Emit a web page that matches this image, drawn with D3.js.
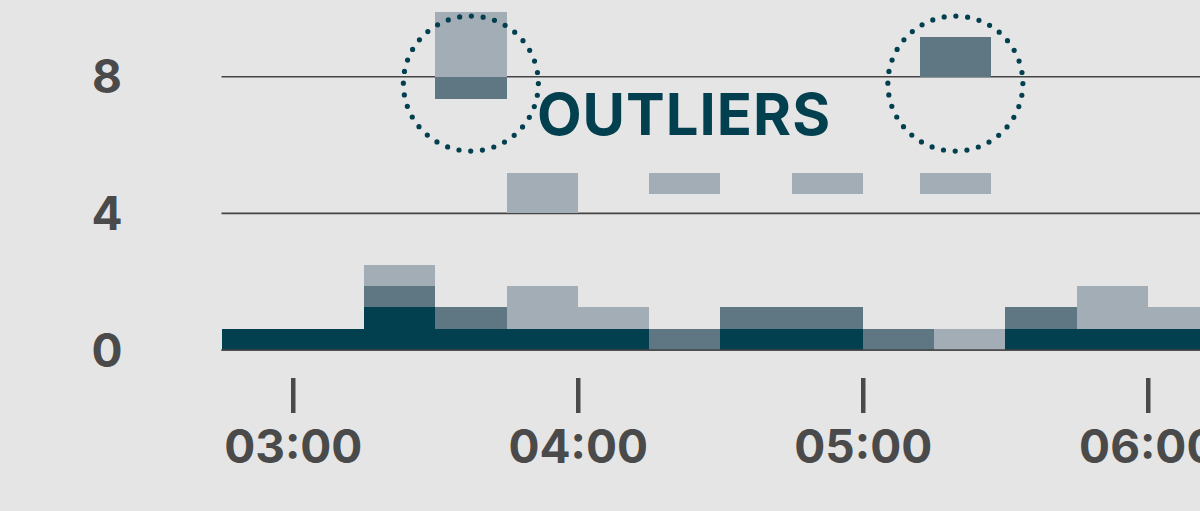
<!DOCTYPE html>
<html>
<head>
<meta charset="utf-8">
<script src="https://cdn.jsdelivr.net/npm/d3@7"></script>
<style>
  html, body { margin: 0; padding: 0; background: #e5e5e5; overflow: hidden; }
  svg { display: block; }
</style>
</head>
<body>
<svg id="chart"></svg>
<script>
// Chart size
const width = 1200;
const height = 511;

// 15-minute bins (start times)
const binTimes = ["02:45", "03:00", "03:15", "03:30", "03:45", "04:00", "04:15",
  "04:30", "04:45", "05:00", "05:15", "05:30", "05:45", "06:00"];

// Stacked values per bin
const darkValues   = [0.625, 0.625, 1.25, 0.625, 0.625, 0.625, 0, 0.625, 0.625, 0, 0, 0.625, 0.625, 0.625];
const mediumValues = [0, 0, 0.625, 0.625, 0, 0, 0.625, 0.625, 0.625, 0.625, 0, 0.625, 0, 0];
const lightValues  = [0, 0, 0.625, 0, 1.25, 0.625, 0, 0, 0, 0, 0.625, 0, 1.25, 0.625];

// Floating marks above the stacks
const floatTimes = ["03:30", "03:30", "05:12", "03:45", "04:15", "04:45", "05:12"];
const floatFrom  = [7.35, 8.0, 8.0, 4.0, 4.57, 4.57, 4.57];
const floatTo    = [8.0, 9.89, 9.17, 5.19, 5.19, 5.19, 5.19];
const floatTone  = ["medium", "light", "medium", "light", "light", "light", "light"];

// Outlier annotations (bin start, centre height)
const outlierTimes = ["03:30", "05:12"];
const outlierLevel = [7.8, 7.8];

// Axis ticks
const yTicks = [0, 4, 8];
const xTicks = ["03:00", "04:00", "05:00", "06:00"];

const colors = { dark: "#023f4f", medium: "#5f7683", light: "#a3adb6" };
const textColor = "#4a4a4a";

const parseTime = d3.timeParse("%H:%M");
const binMinutes = 15;

// Scales
const x = d3.scaleTime()
  .domain([parseTime("02:45"), parseTime("06:15")])
  .range([221.5, 221.5 + 3.5 * 285]);

const y = d3.scaleLinear()
  .domain([0, 8])
  .range([350, 76.7]);

const svg = d3.select("#chart")
  .attr("width", width)
  .attr("height", height);

svg.append("rect")
  .attr("width", width)
  .attr("height", height)
  .attr("fill", "#e5e5e5");

// Gridlines
svg.append("g")
  .selectAll("line")
  .data(yTicks)
  .join("line")
  .attr("x1", 221.5)
  .attr("x2", width)
  .attr("y1", d => y(d))
  .attr("y2", d => y(d))
  .attr("stroke", "#444")
  .attr("stroke-width", 1.6);

// Y labels
svg.append("g")
  .selectAll("text")
  .data(yTicks)
  .join("text")
  .attr("x", 107)
  .attr("y", d => y(d))
  .attr("dy", "0.36em")
  .attr("text-anchor", "middle")
  .attr("font-family", "Inter, 'Liberation Sans', sans-serif")
  .attr("font-weight", 700)
  .attr("font-size", 46)
  .attr("fill", textColor)
  .text(d => d);

// Stacked bars
const rows = binTimes.map((t, i) => ({
  time: parseTime(t),
  dark: darkValues[i],
  medium: mediumValues[i],
  light: lightValues[i]
}));

const stack = d3.stack().keys(["dark", "medium", "light"]);
const series = stack(rows);

const barEnd = d => d3.timeMinute.offset(d, binMinutes);

svg.append("g")
  .attr("shape-rendering", "crispEdges")
  .selectAll("g")
  .data(series)
  .join("g")
  .attr("fill", s => colors[s.key])
  .selectAll("rect")
  .data(s => s.filter(d => d[1] > d[0]))
  .join("rect")
  .attr("x", d => x(d.data.time))
  .attr("width", d => x(barEnd(d.data.time)) - x(d.data.time))
  .attr("y", d => y(d[1]))
  .attr("height", d => y(d[0]) - y(d[1]));

// Floating marks
const floats = floatTimes.map((t, i) => ({
  time: parseTime(t), from: floatFrom[i], to: floatTo[i], tone: floatTone[i]
}));

svg.append("g")
  .attr("shape-rendering", "crispEdges")
  .selectAll("rect")
  .data(floats)
  .join("rect")
  .attr("x", d => x(d.time))
  .attr("width", d => x(barEnd(d.time)) - x(d.time))
  .attr("y", d => y(d.to))
  .attr("height", d => y(d.from) - y(d.to))
  .attr("fill", d => colors[d.tone]);

// Baseline
svg.append("line")
  .attr("x1", 221.5)
  .attr("x2", width)
  .attr("y1", y(0))
  .attr("y2", y(0))
  .attr("stroke", "#444")
  .attr("stroke-width", 1.6);

// Dotted circles around outliers
const r = 67.5;
const circ = 2 * Math.PI * r;
svg.append("g")
  .selectAll("circle")
  .data(outlierTimes)
  .join("circle")
  .attr("cx", t => {
    const t0 = parseTime(t);
    return (x(t0) + x(barEnd(t0))) / 2;
  })
  .attr("cy", (t, i) => y(outlierLevel[i]))
  .attr("r", r)
  .attr("fill", "none")
  .attr("stroke", colors.dark)
  .attr("stroke-width", 5.2)
  .attr("stroke-linecap", "round")
  .attr("stroke-dasharray", `0 ${circ / 36}`);

// Annotation label
svg.append("text")
  .attr("x", 684)
  .attr("y", 135)
  .attr("text-anchor", "middle")
  .attr("font-family", "Inter, 'Liberation Sans', sans-serif")
  .attr("font-weight", 700)
  .attr("font-size", 58)
  .attr("letter-spacing", 1)
  .attr("fill", colors.dark)
  .text("OUTLIERS");

// X axis
const xAxis = d3.axisBottom(x)
  .tickValues(xTicks.map(parseTime))
  .tickFormat(d3.timeFormat("%H:%M"))
  .tickSize(35)
  .tickPadding(17);

const gx = svg.append("g")
  .attr("transform", "translate(0,378)")
  .call(xAxis);

gx.select(".domain").remove();
gx.selectAll(".tick line")
  .attr("stroke", textColor)
  .attr("stroke-width", 4.5);
gx.selectAll(".tick text")
  .attr("fill", textColor)
  .attr("font-family", "Inter, 'Liberation Sans', sans-serif")
  .attr("font-weight", 700)
  .attr("font-size", 46);
</script>
</body>
</html>
